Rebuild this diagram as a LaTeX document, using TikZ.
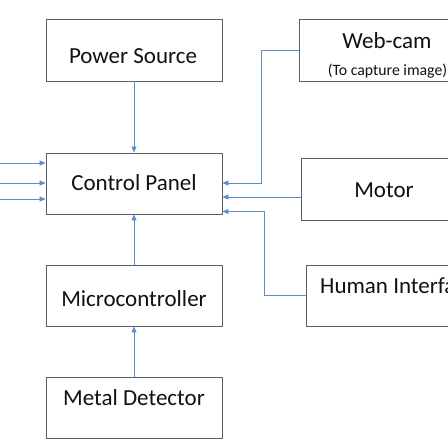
\documentclass[tikz,border=0pt]{standalone}
\usepackage{fontspec}
\setmainfont{Carlito}
\usetikzlibrary{arrows.meta,calc}
\definecolor{boxc}{HTML}{56616E}
\definecolor{arrc}{HTML}{5B8FC9}
\definecolor{lightc}{HTML}{A3BACB}
\definecolor{txtc}{HTML}{111111}
\begin{document}
\begin{tikzpicture}[x=1pt,y=-1pt,
  blk/.style={draw=boxc,line width=0.9pt,rectangle,inner sep=0pt},
  lbl/.style={text=txtc,inner sep=0pt,font=\fontsize{23}{26}\selectfont},
  small/.style={text=txtc,inner sep=0pt,font=\fontsize{15.8}{18}\selectfont},
  arr/.style={draw=arrc,line width=0.8pt,-{Triangle[length=6pt,width=5pt]}},
  arrl/.style={draw=lightc,line width=1pt,-{Triangle[length=6pt,width=5pt]},arrc}
]
\useasboundingbox (0,0) rectangle (448,448);
\clip (0,0) rectangle (448,448);
\fill[white] (0,0) rectangle (448,448);
% boxes
\node[blk,minimum width=176pt,minimum height=62pt] (ps) at (134,50) {};
\node[blk,minimum width=176pt,minimum height=61pt] (cp) at (134,183.5) {};
\node[blk,minimum width=176pt,minimum height=61pt] (mc) at (134,295.5) {};
\node[blk,minimum width=176pt,minimum height=61pt] (md) at (134,407.5) {};
\node[blk,minimum width=180pt,minimum height=62pt] (wc) at (389,50) {};
\node[blk,minimum width=180pt,minimum height=62pt] (mo) at (391,189) {};
\node[blk,minimum width=180pt,minimum height=61pt] (hi) at (396,295.5) {};
% texts
\node[lbl] (tps) at (133,56) {Power Source};
\node[lbl] (tcp) at (134,183) {Control Panel};
\node[lbl] (tmc) at (134,299) {Microcontroller};
\node[lbl] (tmd) at (134,398) {Metal Detector};
\node[lbl] (twc) at (387,41) {Web-cam};
\node[small] (twc2) at (387.5,71) {(To capture image)};
\node[lbl] (tmo) at (384,190) {Motor};
\node[lbl,anchor=west] (thi) at (320,286) {Human Interface};
% left inputs
\coordinate (in1) at (-2,163);
\coordinate (in2) at (-2,183);
\coordinate (in3) at (-2,199);
\draw[arr] (in1) -- (cp.west |- in1);
\draw[arr] (in2) -- (cp.west |- in2);
\draw[arr] (in3) -- (cp.west |- in3);
% vertical arrows
\draw[arr] (ps.south) -- (cp.north);
\draw[arr] (mc.north) -- (cp.south);
\draw[arr] (md.north) -- (mc.south);
% right side
\draw[arr] (wc.west) -| (261,183) -- (cp.east |- 0,183);
\draw[arr] (mo.west |- 0,197) -- (cp.east |- 0,197);
\draw[arrl] (hi.west) -| (264,211.5) -- (cp.east |- 0,211.5);
\end{tikzpicture}
\end{document}
